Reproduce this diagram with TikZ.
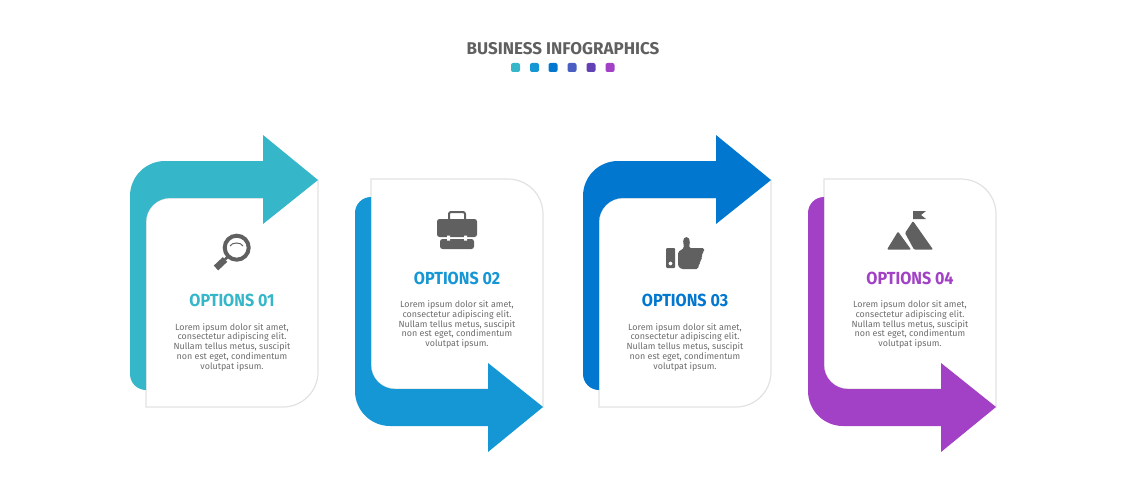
\documentclass[tikz,border=0pt]{standalone}
\usepackage{fontspec}
\setmainfont{Fira Sans}
\newfontfamily\headfont[FakeStretch=0.92]{Fira Sans}
\definecolor{tealopt}{HTML}{36B7C9}
\definecolor{blueopt}{HTML}{1597D5}
\definecolor{deepopt}{HTML}{0277CF}
\definecolor{indigoopt}{HTML}{4A5FC1}
\definecolor{violetopt}{HTML}{6440B5}
\definecolor{purpleopt}{HTML}{A241C6}
\definecolor{greyicon}{HTML}{606060}
\definecolor{greytext}{HTML}{6E6E6E}
\definecolor{greyedge}{HTML}{E2E2E2}
\tikzset{
  card/.style={draw=greyedge,line width=1.2pt,fill=white},
  icon/.style={fill=greyicon,draw=none},
  headline/.style={font=\headfont\bfseries\fontsize{17.5}{20}\selectfont},
  bodytext/.style={font=\fontsize{8.9}{9.75}\selectfont,text=greytext,align=center},
  dot/.style={rounded corners=2pt,minimum size=9pt,inner sep=0pt}
}
\begin{document}
\begin{tikzpicture}[x=1pt,y=-1pt]
  \useasboundingbox (0,0) rectangle (1126,500);
  % title
  \node[font=\bfseries\fontsize{17}{20}\selectfont,text=greyicon] (title) at (563,49) {BUSINESS INFOGRAPHICS};
  \node[dot,fill=tealopt] (dot1) at (515.5,67.5) {};
  \node[dot,fill=blueopt] (dot2) at (534.5,67.5) {};
  \node[dot,fill=deepopt] (dot3) at (553,67.5) {};
  \node[dot,fill=indigoopt] (dot4) at (572,67.5) {};
  \node[dot,fill=violetopt] (dot5) at (591,67.5) {};
  \node[dot,fill=purpleopt] (dot6) at (610,67.5) {};
  % option 1
  \draw[card] (146,222) -- (146,407) -- (283,407) arc[start angle=90,end angle=0,radius=35] -- (318,180) -- (263,198) -- (170,198) arc[start angle=270,end angle=180,radius=24];
  \fill[tealopt] (146,390) arc[start angle=90,end angle=180,radius=16] -- (130,196) arc[start angle=180,end angle=270,radius=35]
    -- (263,161) -- (263,135) -- (318,180) -- (263,224) -- (263,198) -- (170,198) arc[start angle=270,end angle=180,radius=24] -- cycle;
  \draw[greyicon,line width=4pt] (236.7,247.7) circle[radius=12];
  \draw[greyicon,line width=1pt] (230,246) .. controls (232,242) and (241,242) .. (243,246);
  \draw[greyicon,line width=2.5pt] (229,255.5) -- (225,259.5);
  \draw[greyicon,line width=6.5pt] (225,259.5) -- (216,268);
  \node[headline,text=tealopt] (head1) at (232,300) {OPTIONS 01};
  \node[bodytext] (body1) at (232,347) {Lorem ipsum dolor sit amet,\\consectetur adipiscing elit.\\Nullam tellus metus, suscipit\\non est eget, condimentum\\volutpat ipsum.};
  % option 2
  \draw[card] (371,179) -- (508,179) arc[start angle=270,end angle=360,radius=35] -- (543,407) -- (488,389) -- (395,389) arc[start angle=90,end angle=180,radius=24] -- cycle;
  \fill[blueopt] (371,197) arc[start angle=270,end angle=180,radius=16] -- (355,391) arc[start angle=180,end angle=90,radius=35]
    -- (488,426) -- (488,452) -- (543,407) -- (488,363) -- (488,389) -- (395,389) arc[start angle=90,end angle=180,radius=24] -- cycle;
  \draw[greyicon,line width=2pt,rounded corners=2pt] (449,220) -- (449,212) -- (465,212) -- (465,220);
  \fill[icon,rounded corners=2.5pt] (437,219) rectangle (477,237);
  \fill[icon,rounded corners=2.5pt] (440,239) rectangle (474,249);
  \fill[white] (447,235.5) rectangle (450,240.5) (464,235.5) rectangle (467,240.5);
  \node[headline,text=blueopt] (head2) at (457,278) {OPTIONS 02};
  \node[bodytext] (body2) at (457,324.5) {Lorem ipsum dolor sit amet,\\consectetur adipiscing elit.\\Nullam tellus metus, suscipit\\non est eget, condimentum\\volutpat ipsum.};
  % option 3
  \draw[card] (599,222) -- (599,407) -- (736,407) arc[start angle=90,end angle=0,radius=35] -- (771,180) -- (716,198) -- (623,198) arc[start angle=270,end angle=180,radius=24];
  \fill[deepopt] (599,390) arc[start angle=90,end angle=180,radius=16] -- (583,196) arc[start angle=180,end angle=270,radius=35]
    -- (716,161) -- (716,135) -- (771,180) -- (716,224) -- (716,198) -- (623,198) arc[start angle=270,end angle=180,radius=24] -- cycle;
  \fill[icon,rounded corners=1pt,even odd rule] (666,248) rectangle (675,268) (670.5,263.5) circle[radius=2];
  \fill[icon,rounded corners=1.5pt] (678,252) -- (684,248) -- (683,240) -- (685,237) -- (688,237) -- (690,241) -- (689,248) -- (704,248) -- (704,252) -- (702,253) -- (702,258) -- (701,259) -- (700,263) -- (699,264) -- (698,269) -- (681,269) -- (678,266) -- cycle;
  \node[headline,text=deepopt] (head3) at (685,300) {OPTIONS 03};
  \node[bodytext] (body3) at (685,347) {Lorem ipsum dolor sit amet,\\consectetur adipiscing elit.\\Nullam tellus metus, suscipit\\non est eget, condimentum\\volutpat ipsum.};
  % option 4
  \draw[card] (824,179) -- (961,179) arc[start angle=270,end angle=360,radius=35] -- (996,407) -- (941,389) -- (848,389) arc[start angle=90,end angle=180,radius=24] -- cycle;
  \fill[purpleopt] (824,197) arc[start angle=270,end angle=180,radius=16] -- (808,391) arc[start angle=180,end angle=90,radius=35]
    -- (941,426) -- (941,452) -- (996,407) -- (941,363) -- (941,389) -- (848,389) arc[start angle=90,end angle=180,radius=24] -- cycle;
  \fill[icon] (913,211) -- (926,211) -- (921,215) -- (926,219) -- (913,219) -- cycle;
  \fill[icon,rounded corners=1pt] (913,221) -- (933,249.5) -- (914,249.5) -- (905,233) -- cycle;
  \fill[icon,rounded corners=1pt] (898,231.5) -- (911,249.5) -- (887,249.5) -- cycle;
  \node[headline,text=purpleopt] (head4) at (910,278) {OPTIONS 04};
  \node[bodytext] (body4) at (910,324.5) {Lorem ipsum dolor sit amet,\\consectetur adipiscing elit.\\Nullam tellus metus, suscipit\\non est eget, condimentum\\volutpat ipsum.};
\end{tikzpicture}
\end{document}
